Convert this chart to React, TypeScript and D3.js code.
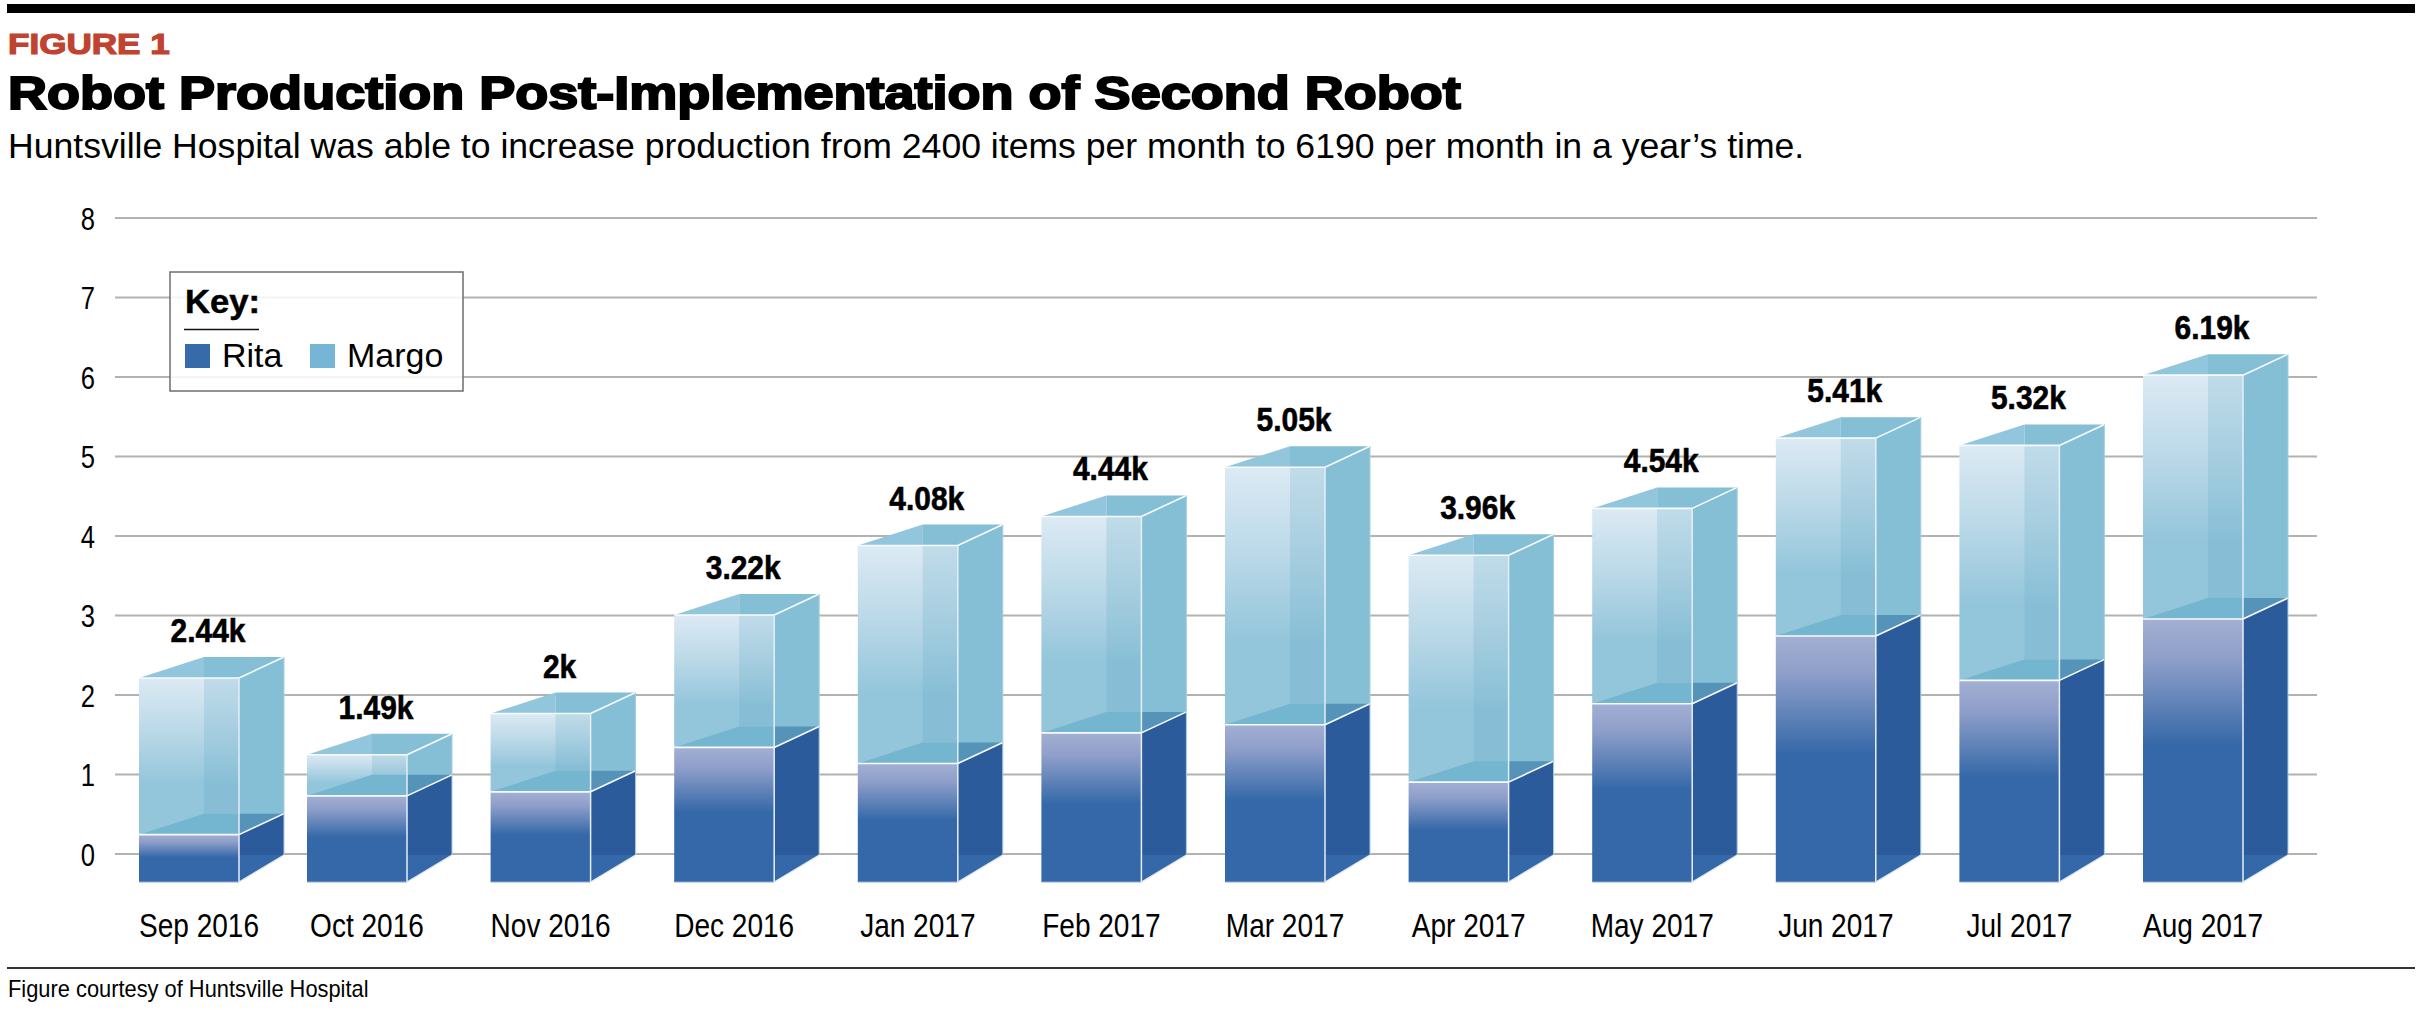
import React, { useEffect, useRef } from 'react';
import * as d3 from 'd3';

const months = ['Sep 2016', 'Oct 2016', 'Nov 2016', 'Dec 2016', 'Jan 2017', 'Feb 2017', 'Mar 2017', 'Apr 2017', 'May 2017', 'Jun 2017', 'Jul 2017', 'Aug 2017'];
const rita = [0.5, 0.98, 1.03, 1.58, 1.38, 1.76, 1.86, 1.15, 2.12, 2.96, 2.41, 3.17];
const margo = [1.94, 0.51, 0.97, 1.64, 2.7, 2.68, 3.19, 2.81, 2.42, 2.45, 2.91, 3.02];
const totalLabels = ['2.44k', '1.49k', '2k', '3.22k', '4.08k', '4.44k', '5.05k', '3.96k', '4.54k', '5.41k', '5.32k', '6.19k'];
const yTicks = [0, 1, 2, 3, 4, 5, 6, 7, 8];
const legendItems = ['Rita', 'Margo'];

const FONT = '"Liberation Sans", Arial, sans-serif';

const App: React.FC = () => {
  const svgRef = useRef<SVGSVGElement>(null);

  useEffect(() => {
    if (!svgRef.current) return;
    const svg = d3.select(svgRef.current);
    svg.selectAll('*').remove();

    // gridlines sit on the back wall, values on the bars run a touch taller
    const gridY = d3.scaleLinear().domain([0, 8]).range([854, 218]);
    const backY = d3.scaleLinear().domain([0, 8]).range([854, 208]);
    // the first gap is narrower than the others in the original
    const barX = d3.scaleLinear().domain([0, 1, 11]).range([139, 307, 2143]);

    const barW = 100;
    const sideDepth = 45;
    const backLeft = 65;
    const frontDrop = 21;
    const baseFront = 882;
    const baseBack = 855;

    const defs = svg.append('defs');
    const gradient = (id: string, stops: [string, string][]) => {
      const g = defs.append('linearGradient').attr('id', id).attr('x1', 0).attr('y1', 0).attr('x2', 0).attr('y2', 1);
      stops.forEach(([o, c]) => g.append('stop').attr('offset', o).attr('stop-color', c));
    };
    gradient('ritaFront', [['0%', '#a3afd3'], ['15%', '#8f9fca'], ['48%', '#3568a8'], ['100%', '#3568a8']]);
    gradient('margoFront', [['0%', '#dceaf4'], ['35%', '#b9d8e7'], ['68%', '#93c5db'], ['100%', '#93c5db']]);

    const poly = (g: d3.Selection<SVGGElement, unknown, null, undefined>, pts: [number, number][], fill: string) =>
      g.append('polygon').attr('points', pts.map(p => p.join(',')).join(' ')).attr('fill', fill);

    const hText = (txt: string, x: number, y: number, size: number, opts: { weight?: string; fill?: string; anchor?: string; sx?: number; stroke?: number } = {}) => {
      const t = svg.append('text')
        .attr('transform', `translate(${x},${y}) scale(${opts.sx ?? 1},1)`)
        .attr('font-family', FONT)
        .attr('font-size', size)
        .attr('font-weight', opts.weight ?? 'normal')
        .attr('fill', opts.fill ?? '#000')
        .attr('text-anchor', opts.anchor ?? 'start')
        .text(txt);
      if (opts.stroke) t.attr('stroke', opts.fill ?? '#000').attr('stroke-width', opts.stroke);
      return t;
    };

    // header
    svg.append('rect').attr('x', 7).attr('y', 4).attr('width', 2408).attr('height', 9).attr('fill', '#000');
    hText('FIGURE 1', 8, 54, 30, { weight: 'bold', fill: '#c0432f', sx: 1.17, stroke: 1.2 });
    hText('Robot Production Post-Implementation of Second Robot', 8, 109, 46, { weight: 'bold', sx: 1.175, stroke: 2 });
    hText('Huntsville Hospital was able to increase production from 2400 items per month to 6190 per month in a year\u2019s time.', 8, 158, 35, { sx: 1.017 });

    // grid + y labels
    yTicks.forEach(t => {
      svg.append('line').attr('x1', 115).attr('x2', 2317).attr('y1', gridY(t)).attr('y2', gridY(t))
        .attr('stroke', '#b2b2b0').attr('stroke-width', 1.8);
      hText(String(t), 95, gridY(t) + 11.5, 32, { anchor: 'end', sx: 0.8 });
    });

    // bars
    months.forEach((m, i) => {
      const g = svg.append('g');
      const fl = barX(i);
      const fr = fl + barW;
      const br = fr + sideDepth;
      const bl = fl + backLeft;
      const total = rita[i] + margo[i];
      const ritaBack = backY(rita[i]);
      const ritaFront = ritaBack + frontDrop;
      const topBack = backY(total);
      const topFront = topBack + frontDrop;

      // Rita
      poly(g, [[fr, ritaFront], [br, ritaBack], [br, baseBack], [fr, baseBack]], '#2c5b9c');
      poly(g, [[fr, baseBack], [br, baseBack], [fr, baseFront]], '#3568a8');
      g.append('rect').attr('x', fl).attr('y', ritaFront).attr('width', barW).attr('height', baseFront - ritaFront).attr('fill', 'url(#ritaFront)');
      g.append('line').attr('x1', fl).attr('x2', fr).attr('y1', baseFront).attr('y2', baseFront).attr('stroke', '#8fa9d0').attr('stroke-width', 1.2);

      // Margo side and see-through floor
      poly(g, [[fr, ritaFront], [br, ritaBack], [br, topBack], [fr, topFront]], '#85bfd6');
      poly(g, [[fr, ritaFront], [br, ritaBack], [fr, ritaBack]], '#5593b8');
      g.append('rect').attr('x', fl).attr('y', topFront).attr('width', barW).attr('height', ritaFront - topFront).attr('fill', 'url(#margoFront)');
      g.append('rect').attr('x', bl).attr('y', topFront).attr('width', fr - bl).attr('height', ritaBack - topFront).attr('fill', '#5fa8c4').attr('opacity', 0.22);
      poly(g, [[fl, ritaFront], [fr, ritaFront], [fr, ritaBack], [bl, ritaBack]], '#74b6cf');

      // top face
      poly(g, [[fl, topFront], [bl, topBack], [bl, topFront]], '#92c6dc');
      poly(g, [[bl, topBack], [br, topBack], [fr, topFront], [bl, topFront]], '#84bfd6');

      // white edges
      const edge = (x1: number, y1: number, x2: number, y2: number, w = 1.6, c = '#f8fbfd') =>
        g.append('line').attr('x1', x1).attr('y1', y1).attr('x2', x2).attr('y2', y2).attr('stroke', c).attr('stroke-width', w);
      edge(fl, topFront, fr, topFront);
      edge(fr, topFront, br, topBack);
      edge(fr, topFront, fr, baseFront, 1.5, '#e6eef6');
      edge(fl, ritaFront, fr, ritaFront);
      edge(fr, ritaFront, br, ritaBack);
      edge(fr, baseFront, br, baseBack, 1.2, '#dfe9f3');
      edge(br, topBack, br, baseBack, 1, '#a9cde0');
    });

    // value + month labels go on top of the bars
    months.forEach((m, i) => {
      const fl = barX(i);
      const total = rita[i] + margo[i];
      hText(totalLabels[i], fl + 69, backY(total) - 15, 34, { weight: 'bold', anchor: 'middle', sx: 0.88, stroke: 0.6 });
      hText(m, fl + 60, 937, 33, { anchor: 'middle', sx: 0.85 });
    });

    // key
    svg.append('rect').attr('x', 170).attr('y', 272).attr('width', 293).attr('height', 119)
      .attr('fill', '#fff').attr('fill-opacity', 0.85).attr('stroke', '#6e6e6e').attr('stroke-width', 1.5);
    hText('Key:', 185, 313, 33, { weight: 'bold', sx: 1.05, stroke: 0.5 });
    svg.append('line').attr('x1', 184).attr('x2', 259).attr('y1', 329.5).attr('y2', 329.5).attr('stroke', '#111').attr('stroke-width', 1.5);
    const keyColor = d3.scaleOrdinal<string, string>().domain(legendItems).range(['#366aa9', '#77b5d6']);
    const keyX = d3.scaleOrdinal<string, number>().domain(legendItems).range([185, 310]);
    legendItems.forEach(k => {
      svg.append('rect').attr('x', keyX(k)).attr('y', 344).attr('width', 25).attr('height', 24).attr('fill', keyColor(k));
      hText(k, keyX(k) + 37, 367, 33, { sx: 1.03 });
    });

    // footer
    svg.append('line').attr('x1', 7).attr('x2', 2415).attr('y1', 968).attr('y2', 968).attr('stroke', '#333').attr('stroke-width', 2);
    hText('Figure courtesy of Huntsville Hospital', 8, 997, 23, { sx: 0.95 });
  }, []);

  return (
    <svg
      ref={svgRef}
      width={2422}
      height={1010}
      style={{ position: 'absolute', left: 0, top: 0, display: 'block', background: '#fff' }}
    />
  );
};

export default App;
